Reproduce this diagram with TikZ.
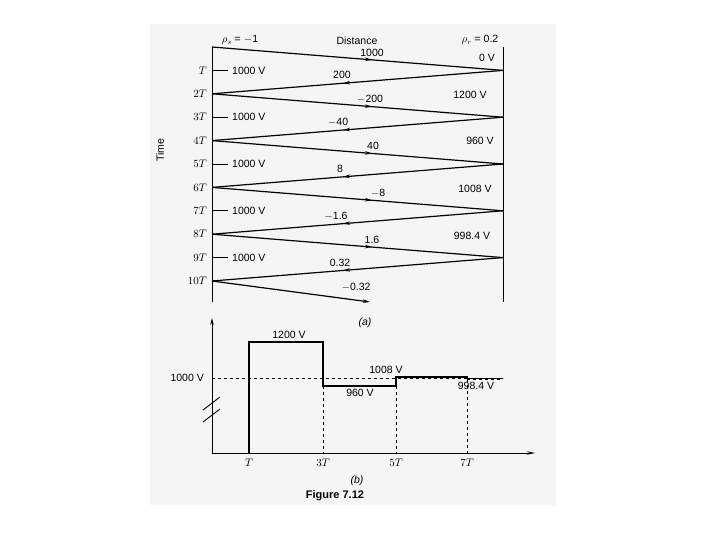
\documentclass[tikz,border=0pt]{standalone}
\usepackage{fontspec}
\setmainfont{Liberation Sans}
\usetikzlibrary{arrows.meta,decorations.markings}
\begin{document}
\begin{tikzpicture}[x=1pt,y=-1pt,
  lbl/.style={font=\fontsize{10.5}{12}\selectfont,inner sep=1pt},
  wave/.style={line width=1.2pt,postaction={decorate},decoration={markings,mark=at position 0.55 with {\arrow{Stealth[length=7pt,width=3.5pt]}}}},
  axis/.style={line width=0.9pt},
  thick wave/.style={line width=1.6pt},
  guide/.style={dashed,line width=0.7pt}]
\useasboundingbox (0,0) rectangle (720,540);
\fill[white] (0,0) rectangle (720,540);
\fill[gray!8] (150,24) rectangle (556,505);
% lattice
\draw[axis] (212,47) -- (212,302);
\draw[axis] (503,47) -- (503,302);
\foreach \i in {0,...,10}{\coordinate (t\i) at (212,{47+23.4*\i}); \coordinate (r\i) at (503,{47+23.4*\i});}
\coordinate (endw) at (370,302);
\draw[wave] (t0) -- (r1);
\draw[wave] (r1) -- (t2);
\draw[wave] (t2) -- (r3);
\draw[wave] (r3) -- (t4);
\draw[wave] (t4) -- (r5);
\draw[wave] (r5) -- (t6);
\draw[wave] (t6) -- (r7);
\draw[wave] (r7) -- (t8);
\draw[wave] (t8) -- (r9);
\draw[wave] (r9) -- (t10);
\draw[line width=1.2pt,-{Stealth[length=7pt,width=3.5pt]}] (t10) -- (endw);
\node[lbl] (ps) at (240,40) {$\rho_s$ = $-$1};
\node[lbl] (dist) at (357,41) {Distance};
\node[lbl] (pr) at (480,40) {$\rho_r$ = 0.2};
\node[lbl,rotate=90] (time) at (160,150) {Time};
\foreach \n/\l in {1/T,3/3T,5/5T,7/7T,9/9T}{
  \node[lbl,anchor=east] (tl\n) at (208,{47+23.4*\n}) {$\l$};
  \draw[axis] (212,{47+23.4*\n}) -- (228,{47+23.4*\n});
  \node[lbl,anchor=west] (tv\n) at (231,{47+23.4*\n}) {1000 V};}
\foreach \n/\l in {2/2T,4/4T,6/6T,8/8T,10/10T}{
  \node[lbl,anchor=east] (tl\n) at (208,{47+23.4*\n}) {$\l$};}
\node[lbl] (v0) at (487,58) {0 V};
\node[lbl] (v1) at (470,95) {1200 V};
\node[lbl] (v2) at (480,141) {960 V};
\node[lbl] (v3) at (475,189) {1008 V};
\node[lbl] (v4) at (472,236) {998.4 V};
\node[lbl] (w1) at (372,53) {1000};
\node[lbl] (w2) at (342,75) {200};
\node[lbl] (w3) at (370,99) {$-$200};
\node[lbl] (w4) at (338,122) {$-$40};
\node[lbl] (w5) at (373,146) {40};
\node[lbl] (w6) at (340,169) {8};
\node[lbl] (w7) at (378,193) {$-$8};
\node[lbl] (w8) at (336,216) {$-$1.6};
\node[lbl] (w9) at (372,240) {1.6};
\node[lbl] (w10) at (340,263) {0.32};
\node[lbl] (w11) at (356,287) {$-$0.32};
\node[lbl] (a) at (365,323) {\textit{(a)}};
% waveform
\coordinate (o) at (212,453);
\coordinate (ytop) at (212,318);
\coordinate (xend) at (535,453);
\draw[axis,-{Stealth[length=7pt,width=3.5pt]}] (o) -- (ytop);
\draw[axis,-{Stealth[length=8pt,width=3.5pt]}] (o) -- (xend);
\draw[axis] (203,410) -- (220,397);
\draw[axis] (203,422) -- (220,409);
\draw[guide] (212,378) -- (503,378);
\node[lbl,anchor=east] (l1000) at (205,378) {1000 V};
\draw[thick wave] (249,453) -- (249,342) -- (323,342) -- (323,386) -- (396,386) -- (396,377) -- (467,377) -- (467,379);
\draw[thick wave,dashed] (467,379) -- (503,379);
\draw[guide] (323,386) -- (323,453);
\draw[guide] (396,386) -- (396,453);
\draw[guide] (467,379) -- (467,453);
\node[lbl] (b1200) at (289,335) {1200 V};
\node[lbl] (b960) at (360,393) {960 V};
\node[lbl] (b1008) at (386,370) {1008 V};
\node[lbl] (b998) at (476,386) {998.4 V};
\node[lbl] (x1) at (249,463) {$T$};
\node[lbl] (x3) at (323,463) {$3T$};
\node[lbl] (x5) at (396,463) {$5T$};
\node[lbl] (x7) at (467,463) {$7T$};
\node[lbl] (b) at (357,481) {\textit{(b)}};
\node[font=\bfseries\fontsize{11}{13}\selectfont] (fig) at (335,496) {Figure 7.12};
\end{tikzpicture}
\end{document}
